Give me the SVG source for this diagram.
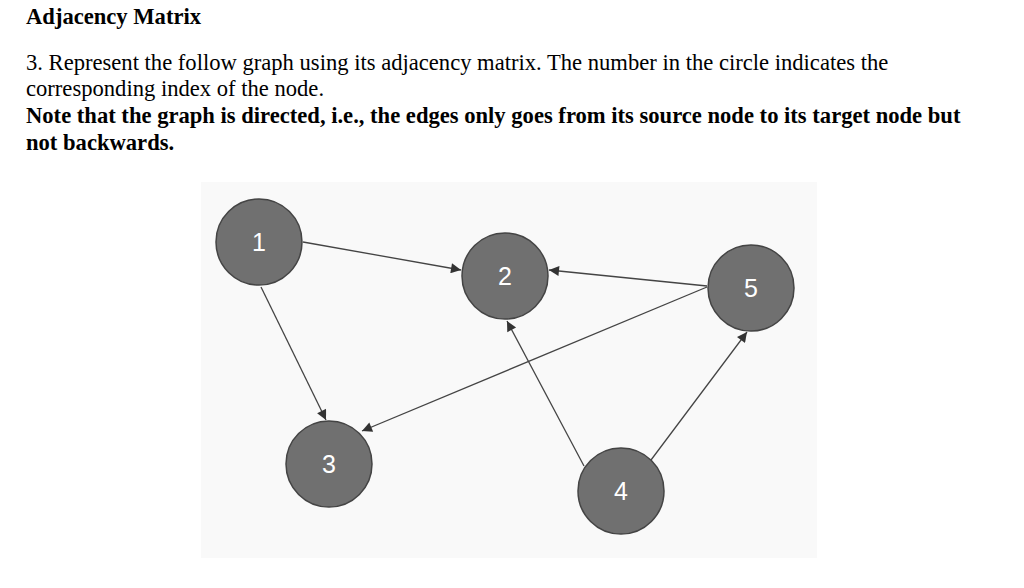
<svg xmlns="http://www.w3.org/2000/svg" width="1024" height="588" viewBox="0 0 1024 588">
<style>
.t{font-family:"Liberation Serif",serif;font-size:22.6px;fill:#000}
.b{font-weight:bold}
.n circle{fill:#707070;stroke:#444;stroke-width:1.5}
.n text{font-family:"Liberation Sans",Arial,sans-serif;font-size:25px;fill:#fff;text-anchor:middle}
.e line{stroke:#444;stroke-width:1.3}
</style>
<defs><marker id="a" viewBox="0 0 10 10" refX="10" refY="5" markerWidth="14" markerHeight="10" markerUnits="userSpaceOnUse" orient="auto"><path d="M0,0L10,5L0,10z" fill="#333"/></marker></defs>
<rect width="1024" height="588" fill="#fff"/>
<text class="t b" x="26" y="24">Adjacency Matrix</text>
<text class="t" x="26" y="70">3. Represent the follow graph using its adjacency matrix. The number in the circle indicates the</text>
<text class="t" x="26" y="96">corresponding index of the node.</text>
<text class="t b" x="26" y="123">Note that the graph is directed, i.e., the edges only goes from its source node to its target node but</text>
<text class="t b" x="26" y="150">not backwards.</text>
<rect x="201" y="182" width="616" height="376" fill="#f9f9f9"/>
<g class="e" id="edges">
<line x1="303" y1="242" x2="461" y2="270" marker-end="url(#a)"/>
<line x1="707" y1="286" x2="549" y2="270" marker-end="url(#a)"/>
<line x1="707" y1="287" x2="362" y2="431" marker-end="url(#a)"/>
<line x1="261" y1="287" x2="326" y2="420" marker-end="url(#a)"/>
<line x1="584" y1="466" x2="507" y2="321" marker-end="url(#a)"/>
<line x1="651" y1="460" x2="747" y2="332" marker-end="url(#a)"/>
</g>
<g class="n" id="node1"><circle cx="259" cy="242" r="43"/><text x="259" y="251">1</text></g>
<g class="n" id="node2"><circle cx="505" cy="276" r="43"/><text x="505" y="285">2</text></g>
<g class="n" id="node3"><circle cx="329" cy="464" r="43"/><text x="329" y="473">3</text></g>
<g class="n" id="node4"><circle cx="621" cy="491" r="43"/><text x="621" y="500">4</text></g>
<g class="n" id="node5"><circle cx="751" cy="288" r="43"/><text x="751" y="297">5</text></g>
</svg>
